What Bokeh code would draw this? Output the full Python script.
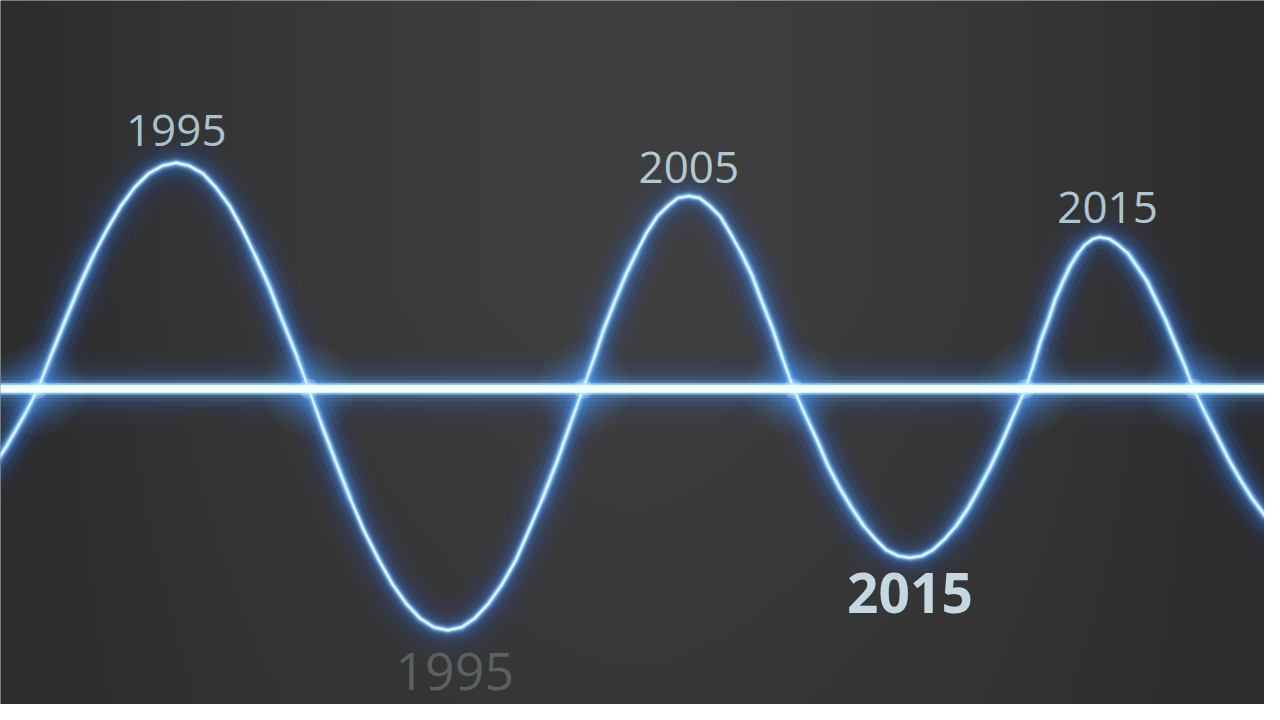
import numpy as np
from bokeh.plotting import figure
from bokeh.embed import file_html
from bokeh.resources import INLINE
from bokeh.core.properties import value

# ---- data (x in px from left, y above the bright baseline) ----
wave_x = [-26, -18, -10, -2, 6, 14, 22, 30, 38,
          52, 66, 80, 94, 108, 122, 136, 150, 164, 178,
          191, 205, 218, 232, 245, 258, 272, 285, 299, 312,
          326, 340, 354, 368, 383, 397, 411, 425, 439, 453,
          467, 480, 494, 508, 522, 535, 549, 563, 576, 590,
          601, 611, 622, 633, 644, 654, 665, 676, 686, 697,
          708, 718, 729, 739, 750, 761, 771, 782, 792, 803,
          815, 827, 838, 850, 862, 874, 886, 897, 909, 921,
          933, 944, 956, 968, 980, 991, 1003, 1015, 1026, 1038,
          1046, 1053, 1061, 1068, 1076, 1083, 1091, 1098, 1106, 1113,
          1123, 1132, 1142, 1151, 1161, 1170, 1180, 1189, 1199, 1208,
          1220, 1232, 1244, 1256, 1268, 1280, 1292]
wave_y = [-95, -89, -81, -71, -59, -45, -31, -16, 0,
          36, 71, 105, 136, 163, 187, 206, 220, 228, 231,
          228, 220, 206, 187, 163, 136, 105, 71, 36, 0,
          -39, -76, -112, -145, -175, -200, -220, -235, -244, -247,
          -244, -235, -220, -200, -175, -145, -112, -76, -39, 0,
          31, 61, 89, 116, 139, 159, 176, 187, 195, 197,
          195, 187, 176, 159, 139, 116, 89, 61, 31, 0,
          -27, -53, -79, -102, -122, -140, -154, -165, -171, -173,
          -171, -165, -154, -140, -122, -102, -79, -53, -27, 0,
          24, 48, 70, 91, 110, 125, 138, 147, 153, 155,
          153, 147, 138, 125, 110, 91, 70, 48, 24, 0,
          -25, -49, -73, -94, -113, -129, -143]
baseline_y = 0
labels = ["1995", "1995", "2005", "2015", "2015"]   # one per extreme, left to right

# ---- label styles (per extreme) ----
lab_dx = [0, 7, 0, 0, 8]
lab_dy = [-32, 41, -29, 35, -30]
lab_size = ["44px", "52px", "44px", "55px", "44px"]
lab_color = ["#a9c2cb", "#596165", "#b3c7ce", "#c3d8e2", "#aec6d0"]
lab_style = ["normal", "normal", "normal", "bold", "normal"]

W, H = 1264, 704
X0, X1 = 0, 1280
Y0, Y1 = -323, 397

p = figure(width=W, height=H, x_range=(X0, X1), y_range=(Y0, Y1),
           output_backend="svg", toolbar_location=None, min_border=0)
p.axis.visible = False
p.grid.visible = False
p.outline_line_color = None
p.background_fill_color = "#353535"
p.border_fill_color = "#353535"

# ---- vignette background ----
nx, ny = 320, 180
xs = np.linspace(0, 1280, nx)
ys = np.linspace(-323, 397, ny)
XX, YY = np.meshgrid(xs, ys)
nxn = np.abs(XX - 640) / 640.0
py = 397 - YY
vert = np.clip((py - 300) / 420.0, 0, 1)
val = 44 + 19 * (1 - nxn ** 1.6) * (1 - 0.4 * vert)
img = np.empty((ny, nx), dtype=np.uint32)
view = img.view(dtype=np.uint8).reshape((ny, nx, 4))
view[..., 0] = val.astype(np.uint8)
view[..., 1] = val.astype(np.uint8)
view[..., 2] = (val + 1).astype(np.uint8)
view[..., 3] = 255
p.image_rgba(image=[img], x=0, y=-323, dw=1280, dh=720)

# ---- baseline haze ----
hx = [X0 - 20, X1 + 20]
for w, a, c in [(70, 0.04, "#2f6fd8"), (50, 0.06, "#3a80e8"), (36, 0.08, "#4592f0"),
                (26, 0.12, "#5aa8f8"), (18, 0.2, "#6cb8ff")]:
    p.line(hx, [baseline_y, baseline_y], line_width=w, line_alpha=a, line_color=c)

# ---- wave glow ----
for w, a, c in [(64, 0.03, "#2a66f0"), (46, 0.045, "#3274f5"), (32, 0.07, "#3c86ff"),
                (22, 0.1, "#4896ff"), (14, 0.17, "#54a4ff"), (9, 0.32, "#62b0ff"),
                (6, 0.55, "#7cc0ff"), (3.5, 0.85, "#b0dcff")]:
    p.line(wave_x, wave_y, line_width=w, line_alpha=a, line_color=c,
           line_join="round", line_cap="round")

# extra glow on the parts of the wave close to the baseline
wy = np.array(wave_y, dtype=float)
near = np.where(np.abs(wy) <= 140, wy, np.nan)
for w, a, c in [(36, 0.05, "#3c86ff"), (20, 0.08, "#56a8ff"), (10, 0.15, "#7cc4ff"),
                (5, 0.4, "#a8dcff")]:
    p.line(wave_x, near, line_width=w, line_alpha=a, line_color=c,
           line_join="round", line_cap="round")

# ---- flares where the wave crosses the baseline ----
cross_x = [wave_x[i] for i, v in enumerate(wave_y) if v == baseline_y]
cross_y = [baseline_y] * len(cross_x)
for s in [92, 78, 66, 56, 47, 39, 32, 26, 21, 17]:
    p.scatter(cross_x, cross_y, size=s, fill_color="#63aeff", fill_alpha=0.05,
              line_color=None)
for s, a in [(20, 0.3), (13, 0.5)]:
    p.scatter(cross_x, cross_y, size=s, fill_color="#d0f0ff", fill_alpha=a,
              line_color=None)

# ---- wave core ----
p.line(wave_x, wave_y, line_width=2, line_alpha=1.0, line_color="#e6f6ff",
       line_join="round", line_cap="round")

# ---- baseline core ----
p.line(hx, [baseline_y, baseline_y], line_width=12, line_alpha=0.6, line_color="#a8e4ff")
p.line(hx, [baseline_y, baseline_y], line_width=8, line_alpha=1.0, line_color="#f0ffff")

# ---- labels at the extremes ----
ext = []
for i in range(1, len(wave_y) - 1):
    if (wave_y[i] >= wave_y[i - 1] and wave_y[i] >= wave_y[i + 1]) or \
       (wave_y[i] <= wave_y[i - 1] and wave_y[i] <= wave_y[i + 1]):
        ext.append(i)
for k, i in enumerate(ext):
    p.text(x=[wave_x[i]], y=[wave_y[i]], text=[labels[k]],
           x_offset=lab_dx[k], y_offset=lab_dy[k],
           text_align="center", text_baseline="alphabetic",
           text_font=value("Open Sans"), text_font_size=lab_size[k],
           text_font_style=lab_style[k], text_color=lab_color[k])

html = file_html(p, INLINE, title="wave")
html = html.replace("<body>", '<body style="background:#303030">', 1)
open("out.html", "w").write(html)
